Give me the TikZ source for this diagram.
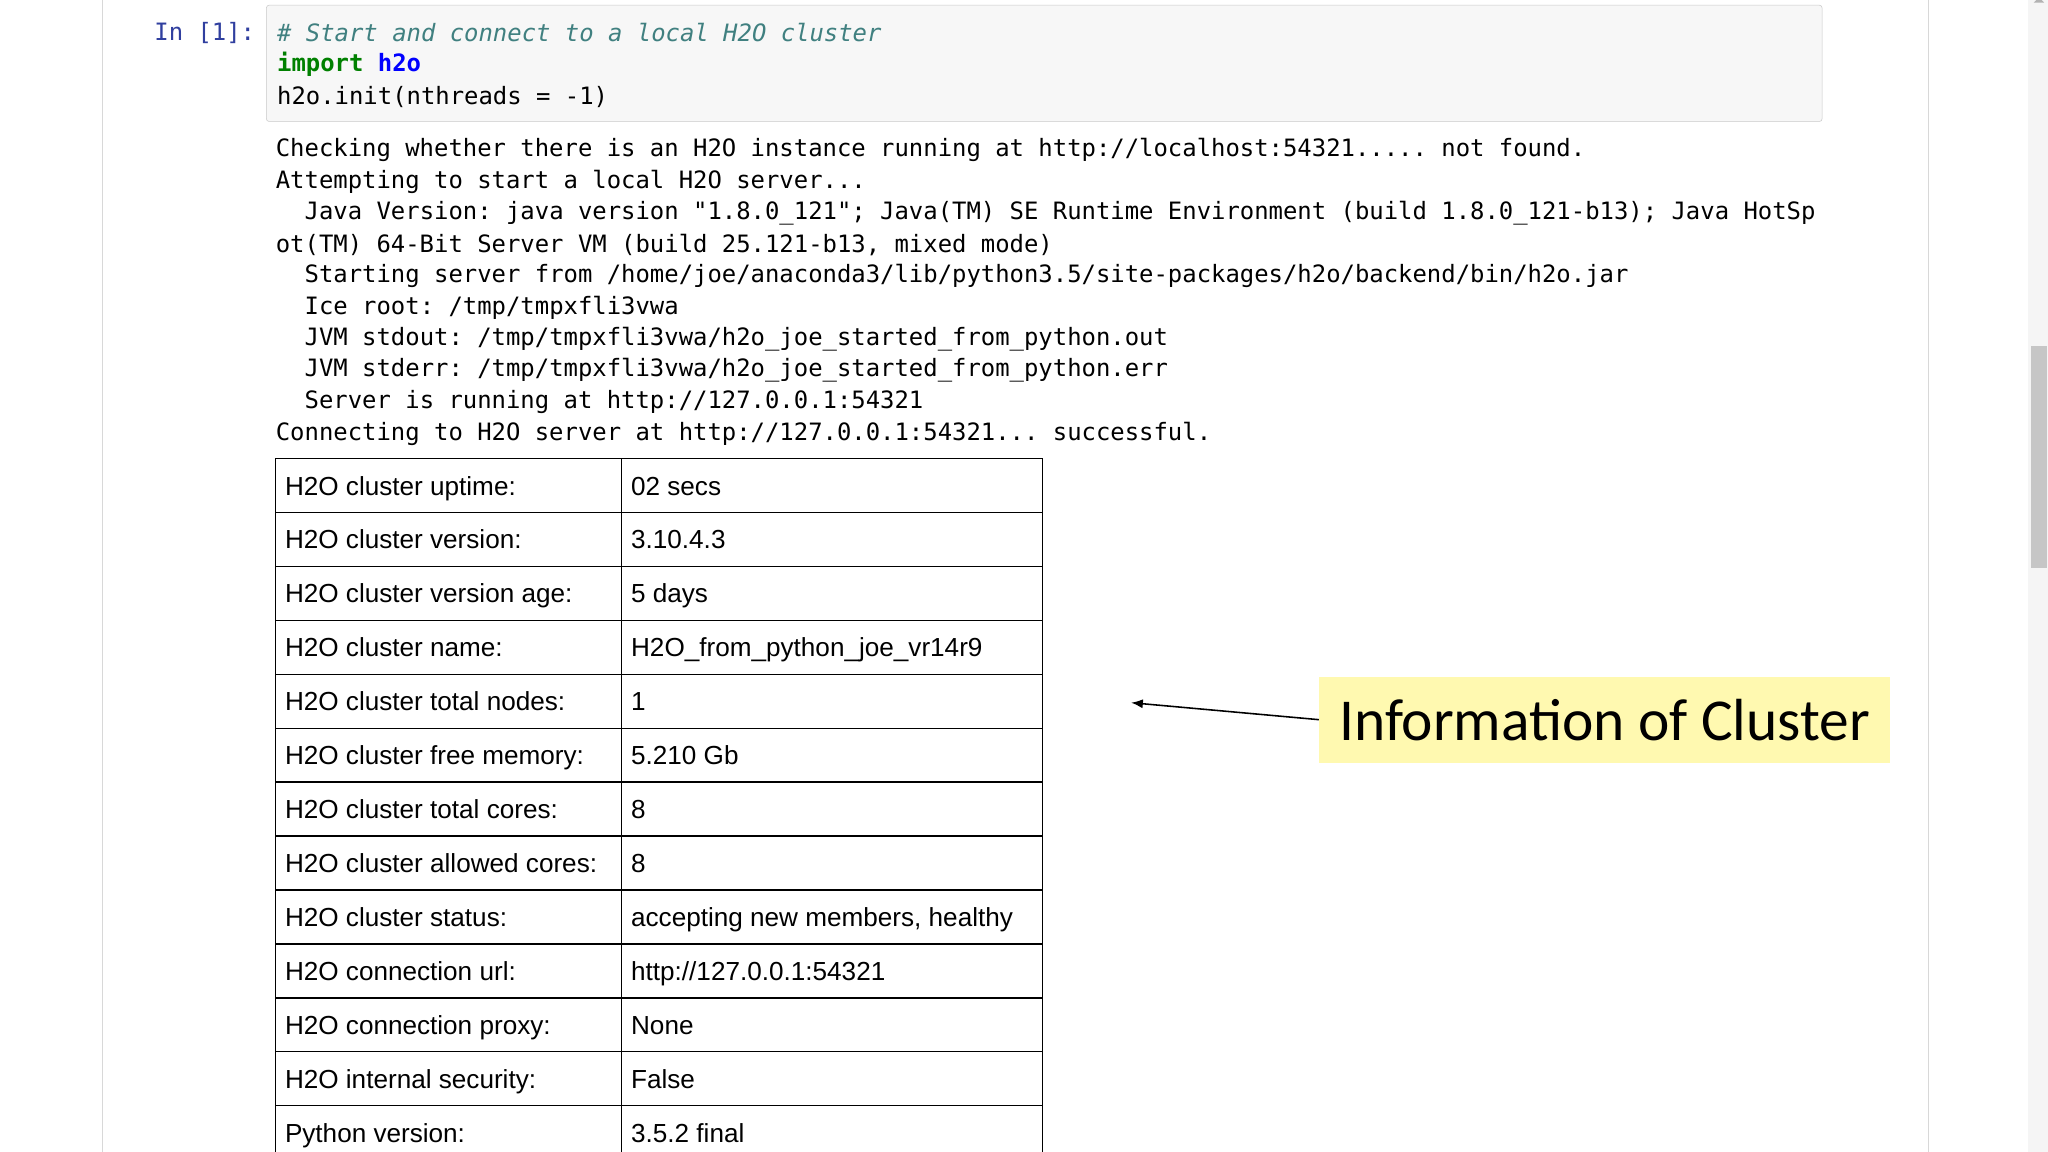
\documentclass[tikz,border=0pt]{standalone}
\usepackage{fontspec}
\setmainfont{Liberation Sans}
\setmonofont{DejaVu Sans Mono}
\newfontfamily\calib{Carlito}
\usetikzlibrary{arrows.meta}
\definecolor{cellbg}{HTML}{F7F7F7}
\definecolor{cellbd}{HTML}{C8C8C8}
\definecolor{promptc}{HTML}{303F9F}
\definecolor{commentc}{HTML}{408080}
\definecolor{kwc}{HTML}{008000}
\definecolor{modc}{HTML}{0000FF}
\definecolor{yel}{HTML}{FFF9B0}
\tikzset{
  mono/.style={anchor=west,inner sep=0,font=\ttfamily\fontsize{18.3}{22}\selectfont},
  cellt/.style={anchor=base west,inner sep=0,font=\fontsize{20}{24}\selectfont},
}
\begin{document}
\begin{tikzpicture}[x=1pt,y=-1pt]
\useasboundingbox (0,0) rectangle (1568,882);
\clip (0,0) rectangle (1568,882);
\fill[white] (0,0) rectangle (1568,882);
\draw[cellbd!70] (78,0) -- (78,882);
\draw[cellbd!70] (1476,0) -- (1476,882);
% scrollbar
\fill[gray!8] (1553,0) rectangle (1568,882);
\fill[gray!45] (1555,265) rectangle (1567,435);
\fill[gray!60] (1557,2) -- (1565,2) -- (1561,-2) -- cycle;
% prompt
\node[mono,text=promptc] (prompt) at (118,25) {In [1]:};
% code cell
\draw[cellbd,fill=cellbg,rounded corners=2] (204,4) rectangle (1395,93);
\node[mono,text=commentc,font=\ttfamily\itshape\fontsize{18.3}{22}\selectfont] (c1) at (212,25) {\# Start and connect to a local H2O cluster};
\node[mono] (c2) at (212,49) {\textcolor{kwc}{\bfseries import} \textcolor{modc}{\bfseries h2o}};
\node[mono] (c3) at (212,74) {h2o.init(nthreads = -1)};
% output
\foreach \i/\t in {0/{Checking whether there is an H2O instance running at http://localhost:54321..... not found.},
 1/{Attempting to start a local H2O server...},
 2/{\ \ Java Version: java version "1.8.0\_121"; Java(TM) SE Runtime Environment (build 1.8.0\_121-b13); Java HotSp},
 3/{ot(TM) 64-Bit Server VM (build 25.121-b13, mixed mode)},
 4/{\ \ Starting server from /home/joe/anaconda3/lib/python3.5/site-packages/h2o/backend/bin/h2o.jar},
 5/{\ \ Ice root: /tmp/tmpxfli3vwa},
 6/{\ \ JVM stdout: /tmp/tmpxfli3vwa/h2o\_joe\_started\_from\_python.out},
 7/{\ \ JVM stderr: /tmp/tmpxfli3vwa/h2o\_joe\_started\_from\_python.err},
 8/{\ \ Server is running at http://127.0.0.1:54321},
 9/{Connecting to H2O server at http://127.0.0.1:54321... successful.}}
 {\node[mono] (o\i) at (211,{115+24.1*\i}) {\t};}
% table
\foreach \i/\a/\b in {0/{H2O cluster uptime:}/{02 secs},
 1/{H2O cluster version:}/{3.10.4.3},
 2/{H2O cluster version age:}/{5 days},
 3/{H2O cluster name:}/{H2O\_from\_python\_joe\_vr14r9},
 4/{H2O cluster total nodes:}/{1},
 5/{H2O cluster free memory:}/{5.210 Gb},
 6/{H2O cluster total cores:}/{8},
 7/{H2O cluster allowed cores:}/{8},
 8/{H2O cluster status:}/{accepting new members, healthy},
 9/{H2O connection url:}/{http://127.0.0.1:54321},
 10/{H2O connection proxy:}/{None},
 11/{H2O internal security:}/{False},
 12/{Python version:}/{3.5.2 final}}
{
 \draw[black,line width=1] (211,{351+41.3*\i}) rectangle (476,{351+41.3*(\i+1)});
 \draw[black,line width=1] (476,{351+41.3*\i}) rectangle (798,{351+41.3*(\i+1)});
 \node[cellt] (k\i) at (218,{379+41.3*\i}) {\a};
 \node[cellt] (v\i) at (483,{379+41.3*\i}) {\b};
}
% callout
\node[fill=yel,minimum width=437,minimum height=66,inner sep=0,font=\calib\fontsize{45.5}{52}\selectfont] (info) at (1228.5,551) {Information of Cluster};
\coordinate (tip) at (866,538);
\draw[-{Latex[length=9,width=7]},line width=1.2] (info.west) -- (tip);
\end{tikzpicture}
\end{document}
